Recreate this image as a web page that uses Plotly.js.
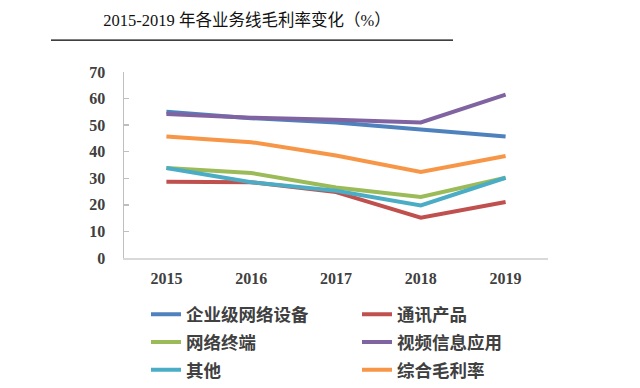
<!DOCTYPE html>
<html>
<head>
<meta charset="utf-8">
<script src="https://cdn.plot.ly/plotly-3.0.1.min.js"></script>
<style>html,body{margin:0;padding:0;background:#fff;}#chart{width:640px;height:388px;}</style>
</head>
<body>
<div id="chart"></div>
<script>
const years = ['2015', '2016', '2017', '2018', '2019'];
const seriesNames = ['企业级网络设备', '通讯产品', '网络终端', '视频信息应用', '其他', '综合毛利率'];
const enterprise = [55.0, 52.6, 51.0, 48.4, 45.7];
const telecom = [28.7, 28.5, 24.8, 15.2, 21.1];
const terminal = [33.9, 32.0, 26.5, 23.0, 30.2];
const video = [54.2, 52.8, 52.0, 51.0, 61.5];
const other = [33.9, 28.5, 25.3, 19.8, 30.2];
const overall = [45.7, 43.6, 38.6, 32.4, 38.4];
const yTicks = [0, 10, 20, 30, 40, 50, 60, 70];
const colors = ['#4F81BD', '#C0504D', '#9BBB59', '#8064A2', '#4BACC6', '#F79646'];
const seriesValues = [enterprise, telecom, terminal, video, other, overall];

const traces = seriesValues.map((vals, i) => ({
  type: 'scatter', mode: 'lines', x: years, y: vals, name: seriesNames[i],
  line: {color: colors[i], width: 4},
  legend: (i % 2 === 0) ? 'legend' : 'legend2',
  legendgroup: 'g' + i
}));

const PH = 186.5, PW = 424, L = 124, B = 258.5;
const legendFont = {family: '"Noto Sans CJK SC", sans-serif', size: 17.5, color: '#404040', weight: 'bold'};
const legendCommon = {
  orientation: 'v', xanchor: 'left', yanchor: 'top', y: (B - 297) / PH,
  traceorder: 'grouped', tracegroupgap: 2, font: legendFont, bgcolor: 'rgba(0,0,0,0)', borderwidth: 0
};

const layout = {
  width: 640, height: 388,
  margin: {l: L, r: 640 - L - PW, t: 72, b: 388 - B, autoexpand: false},
  paper_bgcolor: '#fff', plot_bgcolor: '#fff',
  title: {
    text: '2015-2019 年各业务线毛利率变化（%）',
    font: {family: '"Liberation Serif", "Noto Sans CJK SC", serif', size: 16.5, color: '#111'},
    xref: 'container', yref: 'container', x: 247/640, xanchor: 'center', y: 1 - 20/388, yanchor: 'middle'
  },
  xaxis: {
    type: 'category', range: [-0.5, 4.5],
    showline: true, linecolor: '#D9D9D9', linewidth: 1.5, showgrid: false, zeroline: false,
    ticks: '', ticklabelstandoff: 5,
    tickfont: {family: '"Liberation Serif", serif', size: 16, color: '#404040', weight: 'bold'}
  },
  yaxis: {
    range: [0, 70], tickvals: yTicks, ticktext: yTicks.map(String),
    showline: true, linecolor: '#BFBFBF', linewidth: 1.5, showgrid: false, zeroline: false,
    ticks: 'inside', ticklen: 5, tickcolor: '#BFBFBF', tickwidth: 1.5, ticklabelstandoff: 14,
    tickfont: {family: '"Liberation Serif", serif', size: 16, color: '#404040', weight: 'bold'}
  },
  showlegend: true,
  legend: Object.assign({}, legendCommon, {x: (146 - L) / PW}),
  legend2: Object.assign({}, legendCommon, {x: (357 - L) / PW}),
  shapes: [{
    type: 'line', xref: 'paper', yref: 'paper',
    x0: (51 - L) / PW, x1: (453 - L) / PW, y0: (B - 40) / PH, y1: (B - 40) / PH,
    line: {color: '#000', width: 1.3}
  }]
};

Plotly.newPlot('chart', traces, layout, {displayModeBar: false, staticPlot: true});
</script>
</body>
</html>
